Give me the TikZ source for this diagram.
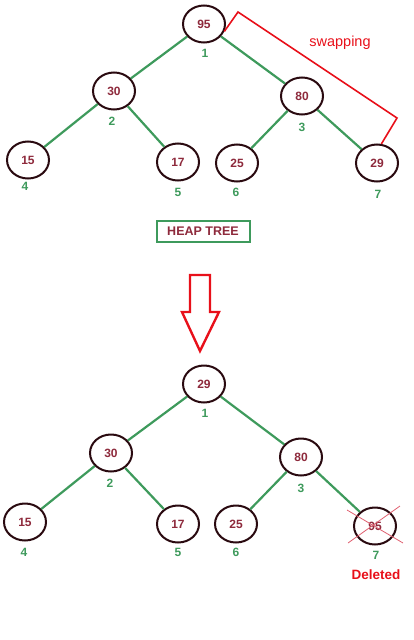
\documentclass[tikz,border=0pt]{standalone}
\usepackage{fontspec}
\setmainfont{Liberation Sans}
\usetikzlibrary{shapes.geometric}
\definecolor{edgegreen}{HTML}{3E9A5C}
\definecolor{numred}{HTML}{8E2A3C}
\definecolor{ringc}{HTML}{2A0A10}
\definecolor{swapred}{HTML}{E8101A}
\definecolor{crossred}{HTML}{E06070}
\begin{document}
\begin{tikzpicture}[x=1pt,y=-1pt,
  heapnode/.style={ellipse, draw=ringc, line width=2pt, fill=white, minimum width=42pt, minimum height=37pt, inner sep=0pt, font=\fontsize{12}{13}\selectfont\bfseries, text=numred},
  idx/.style={font=\fontsize{12}{13}\selectfont\bfseries, text=edgegreen},
  treeedge/.style={draw=edgegreen, line width=2.2pt},
  redtext/.style={font=\fontsize{13.5}{15}\selectfont\bfseries, text=swapred}]
\useasboundingbox (0,0) rectangle (414,640);

% ---------- top tree ----------
\node[heapnode] (a1) at (204,24) {95};
\node[heapnode] (a2) at (114,91) {30};
\node[heapnode] (a3) at (302,96) {80};
\node[heapnode] (a4) at (28,160) {15};
\node[heapnode] (a5) at (178,162) {17};
\node[heapnode] (a6) at (237,163) {25};
\node[heapnode] (a7) at (377,163) {29};

\draw[treeedge] (a1) -- (a2);
\draw[treeedge] (a1) -- (a3);
\draw[treeedge] (a2) -- (a4);
\draw[treeedge] (a2) -- (a5);
\draw[treeedge] (a3) -- (a6);
\draw[treeedge] (a3) -- (a7);

\node[idx] (ai1) at (205,53) {1};
\node[idx] (ai2) at (112,121) {2};
\node[idx] (ai3) at (302,127) {3};
\node[idx] (ai4) at (25,186) {4};
\node[idx] (ai5) at (178,192) {5};
\node[idx] (ai6) at (236,192) {6};
\node[idx] (ai7) at (378,194) {7};

% swapping bracket
\coordinate (sw1) at (238,12);
\coordinate (sw2) at (397,118);
\draw[swapred, line width=1.6pt, line join=miter] (a1.-20) -- (sw1) -- (sw2) -- (a7.77);
\node[redtext, font=\fontsize{14.5}{16}\selectfont] (swaplbl) at (340,43) {swapping};

% heap tree label
\node[draw=edgegreen, line width=2pt, minimum width=93pt, minimum height=21pt, inner sep=0pt,
      font=\fontsize{12.5}{13}\selectfont\bfseries, text=numred] (heaplbl) at (203,231) {HEAP TREE};

% big arrow
\draw[swapred, line width=2.4pt, line join=miter]
  (190,275) -- (210,275) -- (210,312) -- (219,312) -- (200,351) -- (182,312) -- (190,312) -- cycle;

% ---------- bottom tree ----------
\node[heapnode] (b1) at (204,384) {29};
\node[heapnode] (b2) at (111,453) {30};
\node[heapnode] (b3) at (301,457) {80};
\node[heapnode] (b4) at (25,522) {15};
\node[heapnode] (b5) at (178,524) {17};
\node[heapnode] (b6) at (236,524) {25};
\node[heapnode] (b7) at (375,526) {95};

\draw[treeedge] (b1) -- (b2);
\draw[treeedge] (b1) -- (b3);
\draw[treeedge] (b2) -- (b4);
\draw[treeedge] (b2) -- (b5);
\draw[treeedge] (b3) -- (b6);
\draw[treeedge] (b3) -- (b7);

\node[idx] (bi1) at (205,413) {1};
\node[idx] (bi2) at (110,483) {2};
\node[idx] (bi3) at (301,488) {3};
\node[idx] (bi4) at (24,552) {4};
\node[idx] (bi5) at (178,552) {5};
\node[idx] (bi6) at (236,552) {6};
\node[idx] (bi7) at (376,555) {7};

% cross on deleted node
\coordinate (x1) at (347,510);
\coordinate (x2) at (403,543);
\coordinate (x3) at (348,543);
\coordinate (x4) at (400,506);
\draw[crossred, line width=0.8pt] (x1) -- (x2);
\draw[crossred, line width=0.8pt] (x3) -- (x4);

\node[redtext] (dellbl) at (376,575) {Deleted};
\end{tikzpicture}
\end{document}
